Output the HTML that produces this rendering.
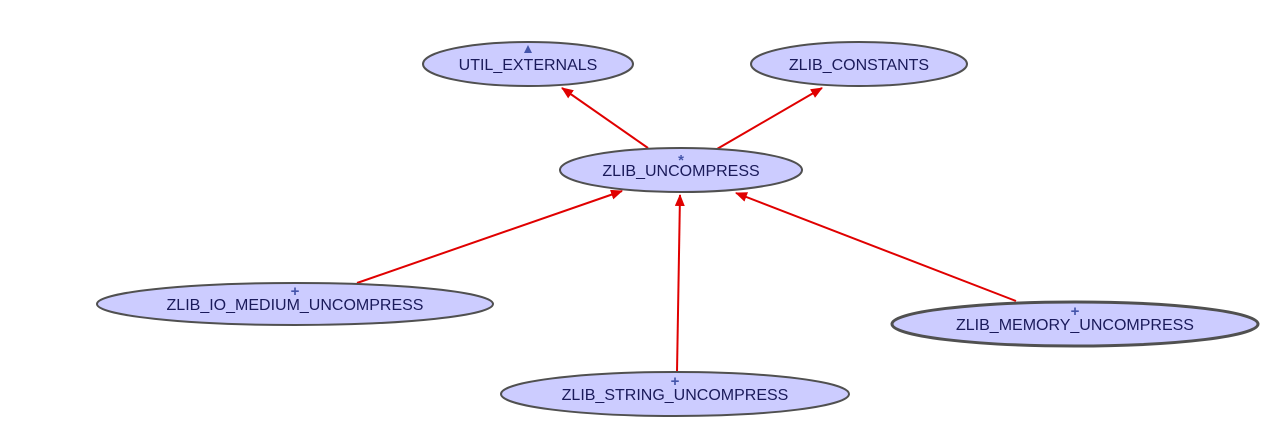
<!DOCTYPE html>
<html><head><style>body{margin:0;background:#fff}svg{display:block}</style></head><body>
<svg width="1266" height="424" viewBox="0 0 1266 424" xmlns="http://www.w3.org/2000/svg">
<defs><marker id="a" markerWidth="12" markerHeight="10" refX="11" refY="5" orient="auto" markerUnits="userSpaceOnUse"><path d="M0,0 L12,5 L0,10 z" fill="#e00000"/></marker></defs>
<g stroke="#e00000" stroke-width="2" marker-end="url(#a)">
<line x1="648" y1="148" x2="562" y2="88"/>
<line x1="717" y1="149" x2="822" y2="88"/>
<line x1="357" y1="283" x2="622" y2="191"/>
<line x1="677" y1="372" x2="680" y2="195"/>
<line x1="1016" y1="301" x2="736" y2="193"/>
</g>
<g fill="#ccccff" stroke="#505050" stroke-width="2">
<ellipse cx="528" cy="64" rx="105" ry="22"/>
<ellipse cx="859" cy="64" rx="108" ry="22"/>
<ellipse cx="681" cy="170" rx="121" ry="22"/>
<ellipse cx="295" cy="304" rx="198" ry="21"/>
<ellipse cx="1075" cy="324" rx="183" ry="22" stroke-width="3"/>
<ellipse cx="675" cy="394" rx="174" ry="22"/>
</g>
<g font-family="Liberation Sans, sans-serif" font-size="16" fill="#1a1a5a" text-anchor="middle">
<text x="528" y="70">UTIL_EXTERNALS</text>
<text x="859" y="70">ZLIB_CONSTANTS</text>
<text x="681" y="176">ZLIB_UNCOMPRESS</text>
<text x="295" y="310">ZLIB_IO_MEDIUM_UNCOMPRESS</text>
<text x="1075" y="330">ZLIB_MEMORY_UNCOMPRESS</text>
<text x="675" y="400">ZLIB_STRING_UNCOMPRESS</text>
</g>
<g fill="#4455aa" font-family="Liberation Sans, sans-serif" font-size="15" font-weight="bold" text-anchor="middle">
<path d="M524,53 L532,53 L528,45 z"/>
<text x="681" y="165">*</text>
<text x="295" y="296">+</text>
<text x="1075" y="316">+</text>
<text x="675" y="386">+</text>
</g>
</svg>
</body></html>
